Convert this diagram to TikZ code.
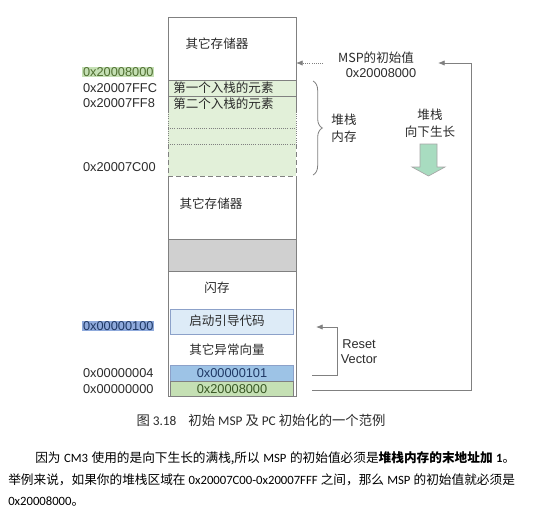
\documentclass[tikz,border=0pt]{standalone}
\usepackage{fontspec}
\setmainfont{Liberation Sans}
\newfontfamily\cjk{Noto Sans CJK SC}
\newfontfamily\calib{Carlito}
\usetikzlibrary{decorations.pathreplacing,arrows.meta}
\definecolor{stackgreen}{HTML}{E2F0D9}
\definecolor{hlgreen}{HTML}{C5E0B4}
\definecolor{hlgreentext}{HTML}{4E6E30}
\definecolor{hlblue}{HTML}{8FAADC}
\definecolor{navytext}{HTML}{1F3864}
\definecolor{bootblue}{HTML}{DDEBF7}
\definecolor{vecblue}{HTML}{9DC3E6}
\definecolor{bottext}{HTML}{385723}
\definecolor{grayfill}{HTML}{D0D0D0}
\definecolor{mint}{HTML}{A8DCC0}
\definecolor{linegray}{HTML}{808080}
\definecolor{txt}{HTML}{2B2B2B}
\begin{document}
\begin{tikzpicture}[x=0.75pt,y=-0.75pt,
  cellline/.style={draw=linegray,line width=0.6pt},
  addr/.style={anchor=west,inner sep=0.6pt,font=\fontsize{9.6}{11}\selectfont,text=txt},
  ctext/.style={font=\cjk\fontsize{9.4}{11}\selectfont,text=txt,inner sep=0pt},
  rtext/.style={font=\fontsize{9.6}{11}\selectfont,text=txt,inner sep=0pt},
  conn/.style={draw=linegray,line width=0.6pt},
  tip/.style={-{Latex[length=5pt,width=4pt]}},
  para/.style={anchor=west,inner sep=0pt,text=black,font=\cjk\fontsize{9.5}{12}\selectfont}]
\useasboundingbox (0,0) rectangle (554,511);
\fill[white] (0,0) rectangle (554,511);

% ---- memory column ----
\filldraw[cellline,fill=white] (168,17) rectangle (296,80);
\filldraw[cellline,fill=stackgreen] (168,80) rectangle (296,96);
\filldraw[cellline,fill=stackgreen] (168,96) rectangle (296,112);
\fill[stackgreen] (168,112) rectangle (296,176);
\draw[cellline,densely dotted] (168,112) -- (168,144) (296,112) -- (296,144)
      (168,128) -- (296,128) (168,144) -- (296,144);
\draw[cellline,dash pattern=on 4pt off 2pt] (168,144) -- (168,176) (296,144) -- (296,176) (168,176) -- (296,176);
\draw[cellline] (168,176) -- (168,396) -- (296,396) -- (296,176);
\filldraw[cellline,fill=grayfill] (168,239) rectangle (296,271);
\filldraw[cellline,draw=hlblue!80!gray,fill=bootblue] (170,309) rectangle (293,334);
\filldraw[cellline,draw=hlblue!80!gray,fill=vecblue] (170,365) rectangle (293,381);
\filldraw[cellline,draw=gray,fill=hlgreen] (170,381) rectangle (293,396);

\node[ctext] (other1) at (217,44) {其它存储器};
\node[ctext,anchor=west] (first) at (173,88) {第一个入栈的元素};
\node[ctext,anchor=west] (second) at (173,104) {第二个入栈的元素};
\node[ctext] (other2) at (211,204) {其它存储器};
\node[ctext] (flash) at (217,288) {闪存};
\node[ctext] (boot) at (227,321) {启动引导代码};
\node[ctext] (exc) at (227,350) {其它异常向量};
\node[rtext,text=navytext] (vec) at (232,373) {0x00000101};
\node[rtext,text=bottext] (msp0) at (232,389) {0x20008000};

% ---- address labels ----
\node[addr,fill=hlgreen,text=hlgreentext] (a1) at (82,72) {0x20008000};
\node[addr] (a2) at (82,88) {0x20007FFC};
\node[addr] (a3) at (82,103) {0x20007FF8};
\node[addr] (a4) at (82,167) {0x20007C00};
\node[addr,fill=hlblue,text=navytext] (a5) at (82,326) {0x00000100};
\node[addr] (a6) at (82,373) {0x00000004};
\node[addr] (a7) at (82,389) {0x00000000};

% ---- MSP initial value ----
\node[ctext] (msp) at (376,58) {MSP的初始值};
\node[rtext] (mspv) at (381,73) {0x20008000};
\coordinate (mspR) at (296,63);
\coordinate (dotS) at (323,63);
\draw[conn,densely dotted,tip] (dotS) -- (mspR);
\coordinate (loopS) at (312,390);
\coordinate (loopE) at (438,63);
\draw[conn,tip] (loopS) -- (471,390) -- (471,63) -- (loopE);

% ---- stack brace ----
\coordinate (brT) at (313,81);
\coordinate (brB) at (313,175);
\draw[conn,decorate,decoration={brace,amplitude=7pt}] (brT) -- (brB);
\node[ctext] (st1) at (344,120) {堆栈};
\node[ctext] (st2) at (344,137) {内存};

% ---- grows downward ----
\node[ctext] (gr1) at (430,115) {堆栈};
\node[ctext] (gr2) at (430,132) {向下生长};
\filldraw[draw=linegray!70,fill=mint,line width=0.5pt]
  (420,144) -- (437,144) -- (437,167) -- (445,167) -- (428.5,176) -- (412,167) -- (420,167) -- cycle;

% ---- reset vector ----
\coordinate (rvS) at (312,375);
\coordinate (rvE) at (316,327);
\draw[conn,tip] (rvS) -- (337,375) -- (337,327) -- (rvE);
\node[rtext] (rv1) at (359,344) {Reset};
\node[rtext] (rv2) at (359,359) {Vector};

% ---- caption ----
\node[inner sep=0pt,text=txt] (cap) at (261,420)
  {\fontsize{10}{12}\selectfont\cjk 图 {\calib 3.18}\hspace{9pt}初始 {\calib MSP} 及 {\calib PC} 初始化的一个范例};

% ---- paragraph ----
\node[para] (p1) at (35,458)
  {\makebox[360pt][s]{因为 {\calib CM3} 使用的是向下生长的满栈,所以 {\calib MSP} 的初始值必须是{\bfseries 堆栈内存的末地址加} {\calib\bfseries 1}。}};
\node[para] (p2) at (8,480)
  {\makebox[380pt][s]{举例来说，如果你的堆栈区域在 {\calib 0x20007C00-0x20007FFF} 之间，那么 {\calib MSP} 的初始值就必须是}};
\node[para] (p3) at (8,502)
  {{\calib 0x20008000}。};
\end{tikzpicture}
\end{document}
